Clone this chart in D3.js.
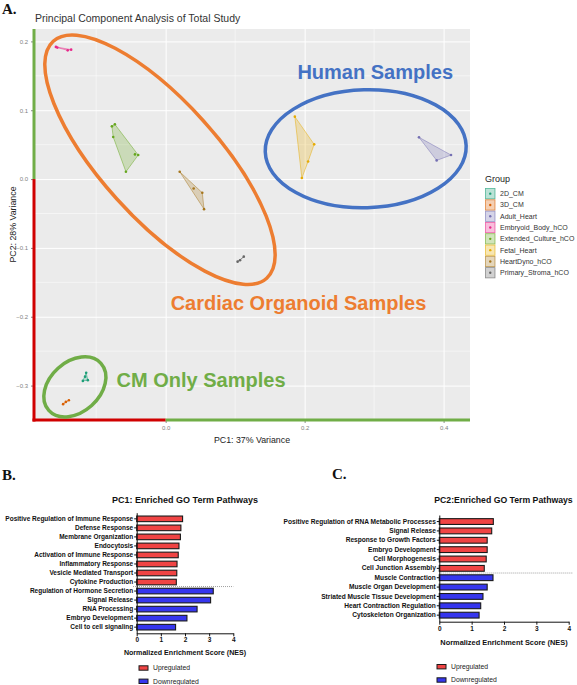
<!DOCTYPE html>
<html>
<head>
<meta charset="utf-8">
<script src="https://cdn.jsdelivr.net/npm/d3@7"></script>
<style>
  body { margin: 0; background: #fff; }
  svg { display: block; }
  text { font-family: "Liberation Sans", Arial, sans-serif; }
</style>
</head>
<body>
<div id="chart"></div>
<script>
// ---- PCA data ----
const groupNames = ['2D_CM', '3D_CM', 'Adult_Heart', 'Embryoid_Body_hCO',
  'Extended_Culture_hCO', 'Fetal_Heart', 'HeartDyno_hCO', 'Primary_Stroma_hCO']

// [group, PC1, PC2]
const pcaSamples = [
  ['2D_CM', -0.1144, -0.2815], ['2D_CM', -0.1192, -0.2932], ['2D_CM', -0.1120, -0.2921], ['2D_CM', -0.1160, -0.2870],
  ['3D_CM', -0.1476, -0.3270], ['3D_CM', -0.1437, -0.3237], ['3D_CM', -0.1393, -0.3213],
  ['Adult_Heart', 0.3646, 0.0606], ['Adult_Heart', 0.4107, 0.0349], ['Adult_Heart', 0.3900, 0.0271],
  ['Embryoid_Body_hCO', -0.1580, 0.1920], ['Embryoid_Body_hCO', -0.1560, 0.1910],
  ['Embryoid_Body_hCO', -0.1410, 0.1870], ['Embryoid_Body_hCO', -0.1360, 0.1880],
  ['Extended_Culture_hCO', -0.0774, 0.0766], ['Extended_Culture_hCO', -0.0731, 0.0795],
  ['Extended_Culture_hCO', -0.0755, 0.0611], ['Extended_Culture_hCO', -0.0442, 0.0358],
  ['Extended_Culture_hCO', -0.0395, 0.0349], ['Extended_Culture_hCO', -0.0572, 0.0106],
  ['Fetal_Heart', 0.1859, 0.0907], ['Fetal_Heart', 0.2137, 0.0504], ['Fetal_Heart', 0.2050, 0.0256], ['Fetal_Heart', 0.1960, 0.0015],
  ['HeartDyno_hCO', 0.0202, 0.0106], ['HeartDyno_hCO', 0.0403, -0.0137], ['HeartDyno_hCO', 0.0527, -0.0199], ['HeartDyno_hCO', 0.0552, -0.0437],
  ['Primary_Stroma_hCO', 0.1035, -0.1200], ['Primary_Stroma_hCO', 0.1070, -0.1180], ['Primary_Stroma_hCO', 0.1124, -0.1127]
]

const pc1Ticks = [0.0, 0.2, 0.4]
const pc2Ticks = [-0.3, -0.2, -0.1, 0.0, 0.1, 0.2]

// annotation ellipses and labels, anchored in data space [PC1, PC2]
const ellipseCenters = [[-0.0082, 0.0281], [0.2879, 0.0441], [-0.1307, -0.3019]]
const annotationText = ['Cardiac Organoid Samples', 'Human Samples', 'CM Only Samples']
const annotationAt = [[0.0072, -0.190], [0.3016, 0.1456], [-0.0706, -0.302]]

// ---- GO term data ----
const pc1UpTerms = ['Positive Regulation of Immune Response', 'Defense Response', 'Membrane Organization',
  'Endocytosis', 'Activation of Immune Response', 'Inflammatory Response', 'Vesicle Mediated Transport', 'Cytokine Production']
const pc1UpNes = [1.90, 1.83, 1.81, 1.75, 1.72, 1.67, 1.66, 1.64]
const pc1DownTerms = ['Regulation of Hormone Secretion', 'Signal Release', 'RNA Processing', 'Embryo Development', 'Cell to cell signaling']
const pc1DownNes = [3.17, 3.06, 2.50, 2.08, 1.61]

const pc2UpTerms = ['Positive Regulation of RNA Metabolic Processes', 'Signal Release', 'Response to Growth Factors',
  'Embryo Development', 'Cell Morphogenesis', 'Cell Junction Assembly']
const pc2UpNes = [1.67, 1.62, 1.48, 1.48, 1.45, 1.39]
const pc2DownTerms = ['Muscle Contraction', 'Muscle Organ Development', 'Striated Muscle Tissue Development',
  'Heart Contraction Regulation', 'Cytoskeleton Organization']
const pc2DownNes = [1.66, 1.48, 1.35, 1.28, 1.23]

const nesTicks = [0, 1, 2, 3, 4]

// ---- layout ----
const W = 577, H = 685
const GREEN = '#70AD47', RED = '#D00000', ORANGE = '#ED7D31', BLUE = '#4472C4'
const UP = '#F04444', DOWN = '#3636EE'

const svg = d3.select('#chart').append('svg')
  .attr('width', W).attr('height', H)

svg.append('rect').attr('width', W).attr('height', H).attr('fill', '#fff')

// panel letters
const letter = (t, x, y) => svg.append('text')
  .attr('x', x).attr('y', y).text(t)
  .style('font-family', '"Liberation Serif", "Times New Roman", serif')
  .style('font-weight', 'bold').style('font-size', '15px').attr('fill', '#111')
letter('A.', 2, 14)
letter('B.', 2, 480)
letter('C.', 332, 479)

// ================= PCA =================
const x = d3.scaleLinear().domain([-0.1895, 0.438]).range([34, 470])
const y = d3.scaleLinear().domain([-0.35, 0.218]).range([420, 29])
const color = d3.scaleOrdinal().domain(groupNames).range(d3.schemeDark2)

const pca = svg.append('g')

pca.append('rect')
  .attr('x', x.range()[0]).attr('y', y.range()[1])
  .attr('width', x.range()[1] - x.range()[0])
  .attr('height', y.range()[0] - y.range()[1])
  .attr('fill', '#EBEBEB')

// minor grid
const xMinor = [-0.1, 0.1, 0.3]
const yMinor = [-0.35, -0.25, -0.15, -0.05, 0.05, 0.15]
pca.selectAll('.xminor').data(xMinor).enter().append('line')
  .attr('x1', d => x(d)).attr('x2', d => x(d))
  .attr('y1', y.range()[1]).attr('y2', y.range()[0])
  .attr('stroke', '#fff').attr('stroke-width', 0.5)
pca.selectAll('.yminor').data(yMinor).enter().append('line')
  .attr('y1', d => y(d)).attr('y2', d => y(d))
  .attr('x1', x.range()[0]).attr('x2', x.range()[1])
  .attr('stroke', '#fff').attr('stroke-width', 0.5)

// major grid
pca.append('g')
  .attr('transform', `translate(0,${y.range()[0]})`)
  .call(d3.axisBottom(x).tickValues(pc1Ticks).tickSize(-(y.range()[0] - y.range()[1])).tickFormat(''))
  .call(sel => sel.select('.domain').remove())
  .call(sel => sel.selectAll('.tick line').attr('stroke', '#fff').attr('stroke-width', 1))
pca.append('g')
  .attr('transform', `translate(${x.range()[0]},0)`)
  .call(d3.axisLeft(y).tickValues(pc2Ticks).tickSize(-(x.range()[1] - x.range()[0])).tickFormat(''))
  .call(sel => sel.select('.domain').remove())
  .call(sel => sel.selectAll('.tick line').attr('stroke', '#fff').attr('stroke-width', 1))

// axes text
pca.append('g')
  .attr('transform', `translate(0,${y.range()[0]})`)
  .call(d3.axisBottom(x).tickValues(pc1Ticks).tickSize(3).tickPadding(3).tickFormat(d3.format('.1f')))
  .call(sel => sel.select('.domain').remove())
  .call(sel => sel.selectAll('.tick line').attr('stroke', '#8a8a8a'))
  .call(sel => sel.selectAll('.tick text').style('font-size', '6px').attr('fill', '#7F7F7F'))
pca.append('g')
  .attr('transform', `translate(${x.range()[0]},0)`)
  .call(d3.axisLeft(y).tickValues(pc2Ticks).tickSize(3).tickPadding(3).tickFormat(d3.format('.1f')))
  .call(sel => sel.select('.domain').remove())
  .call(sel => sel.selectAll('.tick line').attr('stroke', '#8a8a8a'))
  .call(sel => sel.selectAll('.tick text').style('font-size', '6px').attr('fill', '#7F7F7F'))

// coloured axis lines
const x0 = x(0), y0 = y(0)
pca.append('line').attr('x1', x.range()[0]).attr('x2', x.range()[0])
  .attr('y1', y.range()[1]).attr('y2', y0).attr('stroke', GREEN).attr('stroke-width', 3)
pca.append('line').attr('x1', x.range()[0]).attr('x2', x.range()[0])
  .attr('y1', y0).attr('y2', y.range()[0] + 1.5).attr('stroke', RED).attr('stroke-width', 3)
pca.append('line').attr('y1', y.range()[0]).attr('y2', y.range()[0])
  .attr('x1', x.range()[0] - 1.5).attr('x2', x0).attr('stroke', RED).attr('stroke-width', 3)
pca.append('line').attr('y1', y.range()[0]).attr('y2', y.range()[0])
  .attr('x1', x0).attr('x2', x.range()[1]).attr('stroke', GREEN).attr('stroke-width', 3)

// titles
svg.append('text').attr('x', 35).attr('y', 22)
  .text('Principal Component Analysis of Total Study')
  .style('font-size', '10.5px').attr('fill', '#333')
svg.append('text').attr('x', (x.range()[0] + x.range()[1]) / 2).attr('y', 443)
  .attr('text-anchor', 'middle').text('PC1: 37% Variance')
  .style('font-size', '8.8px').attr('fill', '#222')
svg.append('text')
  .attr('transform', `translate(15.5,${(y.range()[0] + y.range()[1]) / 2}) rotate(-90)`)
  .attr('text-anchor', 'middle').text('PC2: 28% Variance')
  .style('font-size', '8.8px').attr('fill', '#222')

// hulls + points
const byGroup = d3.group(pcaSamples, d => d[0])
groupNames.forEach(gname => {
  const pts = (byGroup.get(gname) || []).map(d => [x(d[1]), y(d[2])])
  const hull = d3.polygonHull(pts)
  if (hull) {
    pca.append('path')
      .attr('d', 'M' + hull.join('L') + 'Z')
      .attr('fill', color(gname)).attr('fill-opacity', 0.25)
      .attr('stroke', color(gname)).attr('stroke-opacity', 0.8).attr('stroke-width', 0.6)
  }
  pca.selectAll(null).data(pts).enter().append('circle')
    .attr('cx', d => d[0]).attr('cy', d => d[1]).attr('r', 1.3)
    .attr('fill', color(gname))
})

// annotation ellipses
const ellipseStyle = [
  { c: ORANGE, rx: 159.5, ry: 58.3, rot: 48 },
  { c: BLUE, rx: 100.5, ry: 59, rot: -1.7 },
  { c: GREEN, rx: 35.1, ry: 25.1, rot: -42 }
]
ellipseCenters.forEach((d, i) => {
  const s = ellipseStyle[i]
  pca.append('ellipse')
    .attr('transform', `translate(${x(d[0])},${y(d[1])}) rotate(${s.rot})`)
    .attr('rx', s.rx).attr('ry', s.ry)
    .attr('fill', 'none').attr('stroke', s.c).attr('stroke-width', 3.5)
})
const annAnchor = ['start', 'middle', 'start']
annotationAt.forEach((d, i) => {
  pca.append('text')
    .attr('x', x(d[0])).attr('y', y(d[1]))
    .attr('text-anchor', annAnchor[i])
    .text(annotationText[i])
    .style('font-size', '20px').style('font-weight', 'bold')
    .attr('fill', ellipseStyle[i].c)
})

// legend
const lg = svg.append('g').attr('transform', 'translate(485,0)')
lg.append('text').attr('x', 0).attr('y', 182).text('Group')
  .style('font-size', '9px').attr('fill', '#222')
const lgItem = lg.selectAll('.lgi').data(groupNames).enter().append('g')
  .attr('transform', (d, i) => `translate(0,${188 + i * 11.3})`)
lgItem.append('rect').attr('x', 0.5).attr('y', 0.5).attr('width', 9.5).attr('height', 10.3)
  .attr('fill', d => color(d)).attr('fill-opacity', 0.3)
  .attr('stroke', d => color(d)).attr('stroke-opacity', 0.7).attr('stroke-width', 0.8)
lgItem.append('circle').attr('cx', 5.25).attr('cy', 5.65).attr('r', 1.2).attr('fill', d => color(d))
lgItem.append('text').attr('x', 15).attr('y', 8.2).text(d => d)
  .style('font-size', '7px').attr('fill', '#333')

// ================= GO bar charts =================
function goChart(cfg) {
  const terms = cfg.upTerms.concat(cfg.downTerms)
  const vals = cfg.upNes.concat(cfg.downNes)
  const rows = terms.map((t, i) => ({ term: t, nes: vals[i], up: i < cfg.upTerms.length }))

  const xs = d3.scaleLinear().domain([0, 4]).range(cfg.xRange)
  const ys = d3.scaleBand().domain(terms).range(cfg.yRange)
    .paddingInner(0.38).paddingOuter(cfg.outer)

  const g = svg.append('g')

  g.append('text')
    .attr('x', cfg.titleX).attr('y', cfg.titleY).attr('text-anchor', 'middle')
    .text(cfg.title).style('font-size', cfg.titleSize).style('font-weight', 'bold').attr('fill', '#111')

  // bars
  g.selectAll('.bar').data(rows).enter().append('rect')
    .attr('x', xs(0)).attr('y', d => ys(d.term))
    .attr('width', d => xs(d.nes) - xs(0)).attr('height', ys.bandwidth())
    .attr('fill', d => d.up ? UP : DOWN)
    .attr('stroke', '#1a1a1a').attr('stroke-width', 1.1)

  // separator between up / down
  const last = cfg.upTerms[cfg.upTerms.length - 1]
  const sepY = ys(last) + ys.bandwidth() + ys.step() * 0.38 / 2
  g.append('line').attr('x1', cfg.sepX[0]).attr('x2', cfg.sepX[1])
    .attr('y1', sepY).attr('y2', sepY)
    .attr('stroke', '#888').attr('stroke-width', 0.8).attr('stroke-dasharray', '1,1')

  // axes
  g.append('g').attr('transform', `translate(${xs(0)},0)`)
    .call(d3.axisLeft(ys).tickSize(2.5).tickSizeOuter(0).tickPadding(1))
    .call(sel => sel.select('.domain').attr('stroke', '#111').attr('stroke-width', 1))
    .call(sel => sel.selectAll('.tick line').attr('stroke', '#111'))
    .call(sel => sel.selectAll('.tick text').style('font-size', cfg.labelSize)
      .style('font-weight', 'bold').attr('fill', '#111'))

  g.append('g').attr('transform', `translate(0,${cfg.yRange[1]})`)
    .call(d3.axisBottom(xs).tickValues(nesTicks).tickSize(3).tickSizeOuter(0).tickPadding(1.5)
      .tickFormat(d3.format('d')))
    .call(sel => sel.select('.domain').attr('stroke', '#111').attr('stroke-width', 1))
    .call(sel => sel.selectAll('.tick line').attr('stroke', '#111'))
    .call(sel => sel.selectAll('.tick text').style('font-size', '6.5px')
      .style('font-weight', 'bold').attr('fill', '#111'))

  g.append('text')
    .attr('x', (cfg.xRange[0] + cfg.xRange[1]) / 2).attr('y', cfg.axisTitleY)
    .attr('text-anchor', 'middle').text('Normalized Enrichment Score (NES)')
    .style('font-size', cfg.axisTitleSize).style('font-weight', 'bold').attr('fill', '#111')

  // legend
  const leg = [['Upregulated', UP], ['Downregulated', DOWN]]
  leg.forEach((d, i) => {
    const cy = cfg.legY + i * 13.3
    g.append('rect').attr('x', cfg.legX).attr('y', cy - 2.2).attr('width', 9).attr('height', 4.4)
      .attr('fill', d[1]).attr('stroke', '#1a1a1a').attr('stroke-width', 1)
    g.append('text').attr('x', cfg.legX + 14).attr('y', cy + 2.4).text(d[0])
      .style('font-size', '6.8px').attr('fill', '#222')
  })
}

goChart({
  title: 'PC1: Enriched GO Term Pathways', titleX: 185, titleY: 502.5, titleSize: '9px',
  upTerms: pc1UpTerms, upNes: pc1UpNes, downTerms: pc1DownTerms, downNes: pc1DownNes,
  xRange: [136.7, 233.3], yRange: [512.7, 633.3], outer: 0.37,
  sepX: [133, 233.3], labelSize: '6.5px',
  axisTitleY: 655.3, axisTitleSize: '7.1px', legX: 139, legY: 668
})

goChart({
  title: 'PC2:Enriched GO Term Pathways', titleX: 503.5, titleY: 503, titleSize: '8.7px',
  upTerms: pc2UpTerms, upNes: pc2UpNes, downTerms: pc2DownTerms, downNes: pc2DownNes,
  xRange: [439.3, 568.7], yRange: [515, 621.7], outer: 0.39,
  sepX: [439.3, 573.3], labelSize: '6.6px',
  axisTitleY: 645, axisTitleSize: '7.4px', legX: 437, legY: 666.7
})
</script>
</body>
</html>
